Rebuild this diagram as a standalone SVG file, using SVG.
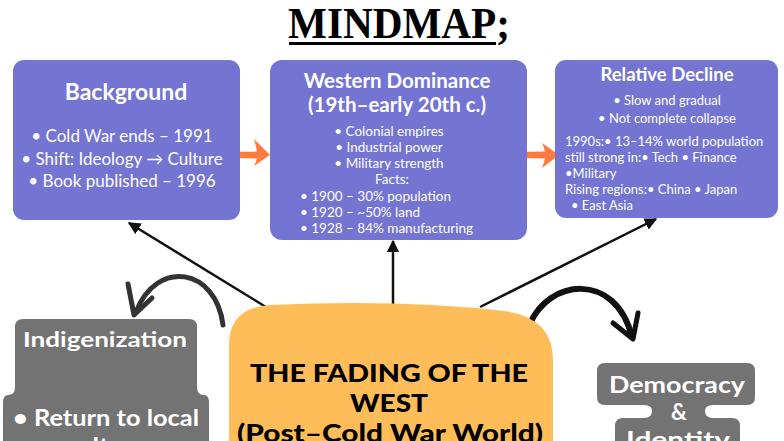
<svg xmlns="http://www.w3.org/2000/svg" width="784" height="441" viewBox="0 0 784 441">
<defs>
<style>
.box{fill:#7474D2}
.gray{fill:#737373}
.ttl{font-family:Lato,"Noto Sans",sans-serif;font-weight:bold;fill:#fff;text-anchor:middle}
.txt{font-family:Lato,"Noto Sans",sans-serif;fill:#fff}
.c{text-anchor:middle}
.gtxt{font-family:Lato,"Noto Sans",sans-serif;font-weight:bold;fill:#fff;text-anchor:middle}
.ctxt{font-family:Lato,"Noto Sans",sans-serif;font-weight:900;fill:#000;text-anchor:middle}
.conn{stroke:#111;stroke-width:2.5;fill:none}
.curve{fill:none;stroke-linecap:round;stroke-linejoin:round}
.orange{fill:#FF7A40}
</style>
<marker id="ah" viewBox="0 0 10 10" refX="9" refY="5" markerWidth="5" markerHeight="5" orient="auto" markerUnits="strokeWidth">
<path d="M0,0 L10,5 L0,10 Z" fill="#111"/>
</marker>
</defs>
<rect width="784" height="441" fill="#fff"/>

<g id="title">
<text x="399" y="38" font-family="Liberation Serif,serif" font-weight="bold" font-size="44" text-anchor="middle" textLength="222" lengthAdjust="spacingAndGlyphs">MINDMAP;</text>
<rect x="289" y="42" width="207" height="3" fill="#000"/>
</g>

<g id="connectors">
<line class="conn" x1="266" y1="307" x2="129" y2="223" marker-end="url(#ah)"/>
<line class="conn" x1="393" y1="307" x2="393" y2="241" marker-end="url(#ah)"/>
<line class="conn" x1="480" y1="307" x2="656" y2="219" marker-end="url(#ah)"/>
<path class="orange" d="M232,152 L257,151.5 Q256,146 254,139 L270,155 L254,166 Q256,162 257,158.5 L232,158 Z"/>
<path class="orange" d="M518,152 L545,151.5 Q544,147 542,143 L559,155 L542,168 Q544,163 545,158.5 L518,158 Z"/>
<path class="curve" stroke="#333" stroke-width="5" d="M223,325 C 216,268 157,258 136,312"/>
<path class="curve" stroke="#333" stroke-width="5" d="M128,284 L134,315 L152,298"/>
<path class="curve" stroke="#111" stroke-width="6" d="M530,324 C 548,280 615,270 632,337"/>
<path class="curve" stroke="#111" stroke-width="5" d="M613,323 L633,339 L638,313"/>
</g>

<g id="background">
<rect class="box" x="13" y="60" width="227" height="160" rx="11"/>
<text class="ttl" x="126" y="100" font-size="23">Background</text>
<text class="txt c" x="122" y="142" font-size="17">• Cold War ends – 1991</text>
<text class="txt c" x="122" y="165" font-size="17">• Shift: Ideology → Culture</text>
<text class="txt c" x="122" y="187" font-size="17">• Book published – 1996</text>
</g>

<g id="western">
<rect class="box" x="270" y="60" width="257" height="180" rx="12"/>
<text class="ttl" x="397" y="88" font-size="20.5">Western Dominance</text>
<text class="ttl" x="397" y="112" font-size="20.5">(19th–early 20th c.)</text>
<text class="txt c" x="389" y="136" font-size="13.5">• Colonial empires</text>
<text class="txt c" x="389" y="152" font-size="13.5">• Industrial power</text>
<text class="txt c" x="389" y="168" font-size="13.5">• Military strength</text>
<text class="txt c" x="392" y="184" font-size="13.5">Facts:</text>
<text class="txt" x="300" y="201" font-size="13.5">• 1900 – 30% population</text>
<text class="txt" x="300" y="217" font-size="13.5">• 1920 – ~50% land</text>
<text class="txt" x="300" y="233" font-size="13.5">• 1928 – 84% manufacturing</text>
</g>

<g id="decline">
<rect class="box" x="555" y="60" width="223" height="158" rx="11"/>
<text class="ttl" x="667" y="81" font-size="18.5">Relative Decline</text>
<text class="txt c" x="667" y="105" font-size="13">• Slow and gradual</text>
<text class="txt c" x="667" y="123" font-size="13">• Not complete collapse</text>
<text class="txt" x="565" y="146" font-size="13">1990s:• 13–14% world population</text>
<text class="txt" x="565" y="162" font-size="13">still strong in:• Tech • Finance</text>
<text class="txt" x="565" y="178" font-size="13">•Military</text>
<text class="txt" x="565" y="194" font-size="13">Rising regions:• China • Japan</text>
<text class="txt" x="571" y="210" font-size="13">• East Asia</text>
</g>

<g id="center">
<path fill="#FFBD59" d="M229,345 Q229,308 270,305 Q400,299 505,311 Q553,318 553,360 V460 H229 Z"/>
<text class="ctxt" x="389" y="382" font-size="25" textLength="278" lengthAdjust="spacingAndGlyphs">THE FADING OF THE</text>
<text class="ctxt" x="389" y="412" font-size="25" textLength="78" lengthAdjust="spacingAndGlyphs">WEST</text>
<text class="ctxt" x="390" y="442" font-size="25" textLength="306" lengthAdjust="spacingAndGlyphs">(Post–Cold War World)</text>
</g>

<g id="indigenization">
<path class="gray" d="M23,319 H189 Q197,319 197,327 V387 Q197,395 204,395 Q209,395 209,403 V450 H3 V403 Q3,395 8,395 Q15,395 15,387 V327 Q15,319 23,319 Z"/>
<text class="gtxt" x="105" y="347" font-size="21" textLength="164" lengthAdjust="spacingAndGlyphs">Indigenization</text>
<text class="gtxt" x="106" y="426" font-size="23" textLength="186" lengthAdjust="spacingAndGlyphs">• Return to local</text>
<text class="gtxt" x="106" y="454" font-size="23" textLength="82" lengthAdjust="spacingAndGlyphs">culture</text>
</g>

<g id="democracy">
<path class="gray" d="M605,363 H747 Q755,363 755,371 V397 Q755,405 747,405 H713 Q705,405 705,411 Q705,418 713,418 H732 Q740,418 740,426 V450 H615 V426 Q615,418 623,418 H644 Q652,418 652,411 Q652,405 644,405 H605 Q597,405 597,397 V371 Q597,363 605,363 Z"/>
<text class="gtxt" x="677" y="393" font-size="22" textLength="136" lengthAdjust="spacingAndGlyphs">Democracy</text>
<text class="gtxt" x="679" y="420" font-size="22">&amp;</text>
<text class="gtxt" x="678" y="448" font-size="22" textLength="104" lengthAdjust="spacingAndGlyphs">Identity</text>
</g>
</svg>
